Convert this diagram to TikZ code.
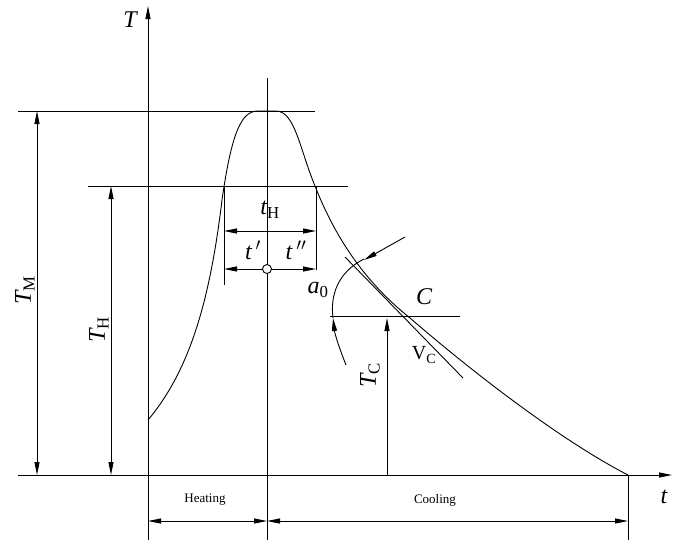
\documentclass[tikz,border=0pt]{standalone}
\usepackage{fontspec}
\setmainfont{Liberation Serif}
\usetikzlibrary{arrows.meta}
\begin{document}
\begin{tikzpicture}[x=1pt,y=-1pt,line width=0.9pt,
  tip/.style={-{Triangle[length=13pt,width=5pt]}},
  dtip/.style={{Triangle[length=13pt,width=5pt]}-{Triangle[length=13pt,width=5pt]}},
  lab/.style={font=\fontsize{24}{24}\selectfont\itshape},
  sm/.style={font=\fontsize{13}{13}\selectfont}]
\useasboundingbox (0,0) rectangle (685,542);
% axes
\coordinate (tb) at (148,540); \coordinate (tt) at (148,6);
\draw[tip] (tb) -- (tt);
\node[lab] (T) at (130,20) {T};
\coordinate (xl) at (18,475); \coordinate (xr) at (672,475);
\draw[tip] (xl) -- (xr);
\node[lab] (tax) at (664,497) {t};
\draw (267,78) -- (267,540);
\draw (628,475) -- (628,540);
% level lines
\draw (18,111) -- (315,111);
\draw (88,186) -- (348,186);
\draw (330,316) -- (460,316);
% dimension arrows
\draw[dtip] (37,111) -- (37,475);
\node[lab,rotate=90] (TM) at (25,290) {T\textsubscript{\upshape M}};
\draw[dtip] (111,186) -- (111,475);
\node[lab,rotate=90] (TH) at (99,330) {T\textsubscript{\upshape H}};
\draw[tip] (387,475) -- (387,318);
\node[lab,rotate=90] (TC) at (370,375) {T\textsubscript{\upshape C}};
% curve
\draw (148,420) .. controls (190,370) and (210,300) .. (222,200)
  .. controls (232,130) and (242,111) .. (258,111)
  -- (276,111) .. controls (295,111) and (300,150) .. (315,186)
  .. controls (340,250) and (375,290) .. (410,318)
  .. controls (470,370) and (560,440) .. (628,475);
% tangent
\draw (345,257) -- (463,378);
% t_H region
\draw (224,186) -- (224,285);
\draw (316,186) -- (316,270);
\draw[dtip] (224,231) -- (316,231);
\node[lab] (tH) at (270,210) {t\textsubscript{\upshape H}};
\draw[tip] (263,269) -- (224,269);
\draw[tip] (271,269) -- (316,269);
\draw[fill=white] (267,269) circle (4.5);
\node[lab] (tp) at (253,250) {t\,$'$};
\node[lab] (tpp) at (296,250) {t\,$''$};
\node[lab] (a0) at (318,290) {a\textsubscript{\upshape 0}};
\node[lab] (C) at (424,297) {C};
\node[font=\fontsize{20}{20}\selectfont] (VC) at (424,355) {V\textsubscript{C}};
% bent arrows
\draw[tip] (405,237) -- (364,260);
\draw (364,259) .. controls (338,272) and (330,295) .. (333,318);
\draw[tip] (346,365) .. controls (340,350) and (335,335) .. (333,318);
% bottom
\draw[dtip] (148,521) -- (267,521);
\draw[dtip] (267,521) -- (628,521);
\node[sm] (heat) at (205,500) {Heating};
\node[sm] (cool) at (435,500) {Cooling};
\end{tikzpicture}
\end{document}
